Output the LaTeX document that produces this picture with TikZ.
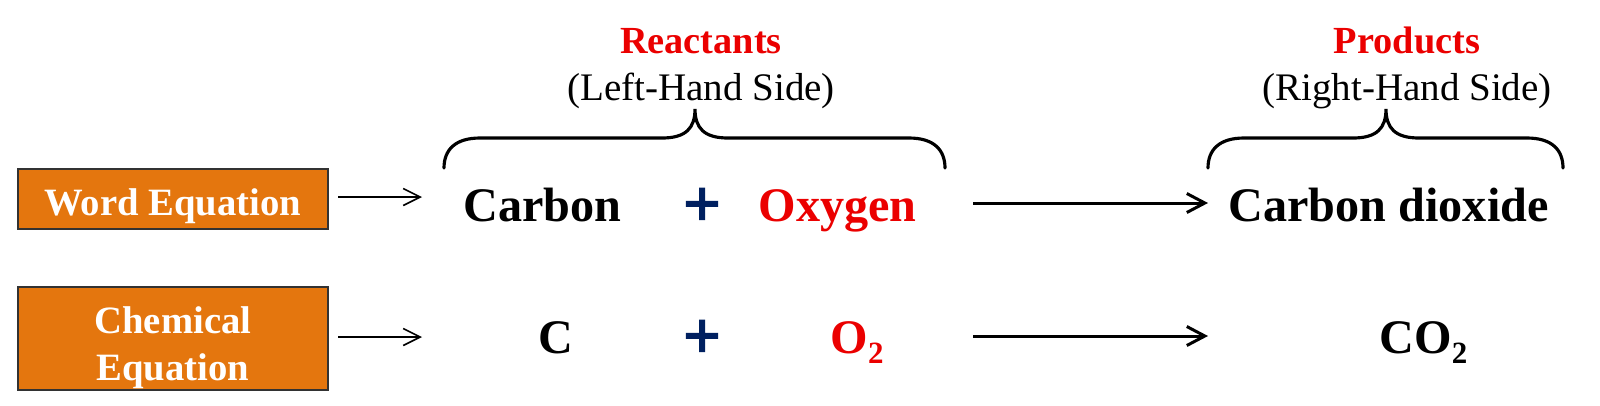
\documentclass[tikz,border=0pt]{standalone}
\usepackage{fontspec}
\setmainfont{Liberation Serif}
\newfontfamily\plusfont[BoldFeatures={FakeBold=2}]{Liberation Serif}
\usetikzlibrary{arrows.meta}
\definecolor{boxorange}{RGB}{228,118,14}
\definecolor{eqred}{RGB}{235,0,0}
\definecolor{plusblue}{RGB}{0,32,96}
\definecolor{boxedge}{RGB}{50,50,50}
\newcommand{\mysub}[1]{\raisebox{-0.22em}{\fontsize{8.8}{10}\selectfont #1}}
\tikzset{
  labelbox/.style={draw=boxedge, line width=0.45pt, fill=boxorange, text=white,
    font=\fontsize{11}{13.37}\selectfont\bfseries, align=center, inner sep=0pt,
    minimum width=3.1cm},
  headtext/.style={inner sep=0pt, text=eqred, font=\fontsize{10.9}{13}\selectfont\bfseries},
  sidetext/.style={inner sep=0pt, font=\fontsize{11.1}{13}\selectfont},
  eqtext/.style={inner sep=0pt, font=\fontsize{13.7}{16}\selectfont\bfseries},
  plussign/.style={inner sep=0pt, text=plusblue, font=\plusfont\fontsize{19}{22}\selectfont\bfseries},
  thinarrow/.style={line width=0.45pt, -{Straight Barb[length=0.17cm,width=0.17cm]}},
  bigarrow/.style={line width=0.85pt, -{Straight Barb[length=0.18cm,width=0.19cm]}},
  bracepath/.style={line width=0.9pt, line cap=round}
}
\begin{document}
\begin{tikzpicture}[x=0.01cm,y=-0.01cm]
\useasboundingbox[fill=white] (0,0) rectangle (1600,405);

% label boxes
\node[labelbox, anchor=north west, text height=0.47cm, text depth=0.13cm] (wordbox) at (17,168) {Word Equation};
\node[labelbox, anchor=north west, text height=0.94cm, text depth=0.09cm] (chembox) at (17,286) {Chemical\\Equation};

% small arrows
\coordinate (s1s) at (338,197); \coordinate (s1e) at (422,197);
\coordinate (s2s) at (338,337); \coordinate (s2e) at (422,337);
\draw[thinarrow] (s1s) -- (s1e);
\draw[thinarrow] (s2s) -- (s2e);

% headings
\node[headtext, anchor=base] (react) at (701,53) {Reactants};
\node[sidetext, anchor=base] (lhs) at (701,100) {(Left-Hand Side)};
\node[headtext, anchor=base] (prod) at (1407,53) {Products};
\node[sidetext, anchor=base] (rhs) at (1407,100) {(Right-Hand Side)};

% braces
\draw[bracepath] (444,168) .. controls (444,150) and (455,138) .. (480,138) -- (662,138)
  .. controls (686,138) and (695,128) .. (695,109)
  .. controls (695,128) and (704,138) .. (728,138) -- (909,138)
  .. controls (934,138) and (945,150) .. (945,168);
\draw[bracepath] (1208,168) .. controls (1208,150) and (1219,138) .. (1244,138) -- (1353,138)
  .. controls (1377,138) and (1386,128) .. (1386,109)
  .. controls (1386,128) and (1395,138) .. (1419,138) -- (1527,138)
  .. controls (1552,138) and (1563,150) .. (1563,168);

% word equation
\node[eqtext, anchor=base west] (carbon) at (463,221) {Carbon};
\node[plussign, anchor=base] (plus1) at (702,226) {+};
\node[eqtext, anchor=base west, text=eqred] (oxygen) at (758,221) {Oxygen};
\node[eqtext, anchor=base west] (cdiox) at (1228,221) {Carbon dioxide};

% chemical equation
\node[eqtext, anchor=base west] (csym) at (538,353) {C};
\node[plussign, anchor=base] (plus2) at (702,358) {+};
\node[eqtext, anchor=base west, text=eqred] (otwo) at (830,353) {O\mysub{2}};
\node[eqtext, anchor=base west] (cotwo) at (1379,353) {CO\mysub{2}};

% reaction arrows
\coordinate (a1s) at (973,203); \coordinate (a1e) at (1208,203);
\coordinate (a2s) at (973,336); \coordinate (a2e) at (1208,336);
\draw[bigarrow] (a1s) -- (a1e);
\draw[bigarrow] (a2s) -- (a2e);
\end{tikzpicture}
\end{document}
